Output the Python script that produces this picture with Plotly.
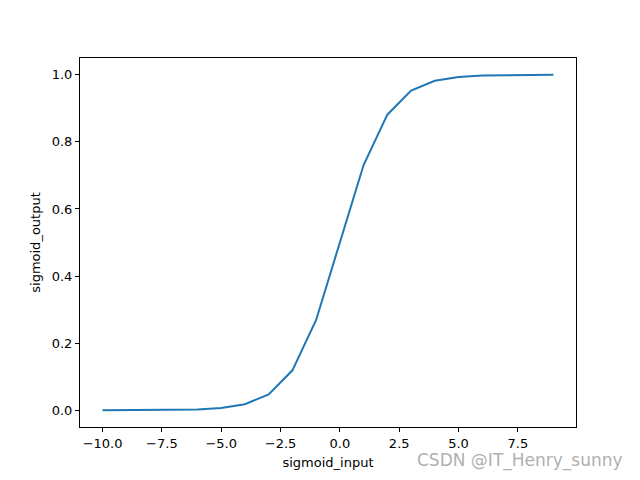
import plotly.graph_objects as go

x_values = [-10, -9, -8, -7, -6, -5, -4, -3, -2, -1, 0, 1, 2, 3, 4, 5, 6, 7, 8, 9]
y_values = [0.00005, 0.00012, 0.00034, 0.0009, 0.0025, 0.0067, 0.018, 0.047, 0.119, 0.269,
            0.5, 0.731, 0.881, 0.953, 0.982, 0.993, 0.9975, 0.999, 0.9997, 0.9999]
x_ticks = [-10.0, -7.5, -5.0, -2.5, 0.0, 2.5, 5.0, 7.5]
y_ticks = [0.0, 0.2, 0.4, 0.6, 0.8, 1.0]

fig = go.Figure()
fig.add_trace(go.Scatter(x=x_values, y=y_values, mode="lines",
                         line=dict(color="#1f77b4", width=2)))

axis_common = dict(showgrid=False, zeroline=False, showline=True, linecolor="black",
                   linewidth=1, mirror=True, ticks="outside", ticklen=4, tickwidth=1,
                   tickcolor="black", tickfont=dict(size=13, color="black"))

fig.update_layout(
    width=640, height=480,
    margin=dict(l=72, r=72, t=50, b=61),
    paper_bgcolor="white", plot_bgcolor="white",
    font=dict(family="DejaVu Sans", size=13, color="black"),
    showlegend=False,
    xaxis=dict(range=[-10.95, 9.95], tickvals=x_ticks,
               ticktext=[f"{v:.1f}".replace("-", "−") for v in x_ticks],
               title=dict(text="sigmoid_input", standoff=8, font=dict(size=13)),
               **axis_common),
    yaxis=dict(range=[-0.05, 1.05], tickvals=y_ticks,
               ticktext=[f"{v:.1f}" for v in y_ticks],
               title=dict(text="sigmoid_output", standoff=8, font=dict(size=13)),
               **axis_common),
)

fig.add_annotation(text="CSDN @IT_Henry_sunny", xref="paper", yref="paper",
                   x=1.099, y=-0.092, xanchor="right", yanchor="middle",
                   showarrow=False, font=dict(size=17, color="#b0b0b0"))

fig.write_html("out.html")
